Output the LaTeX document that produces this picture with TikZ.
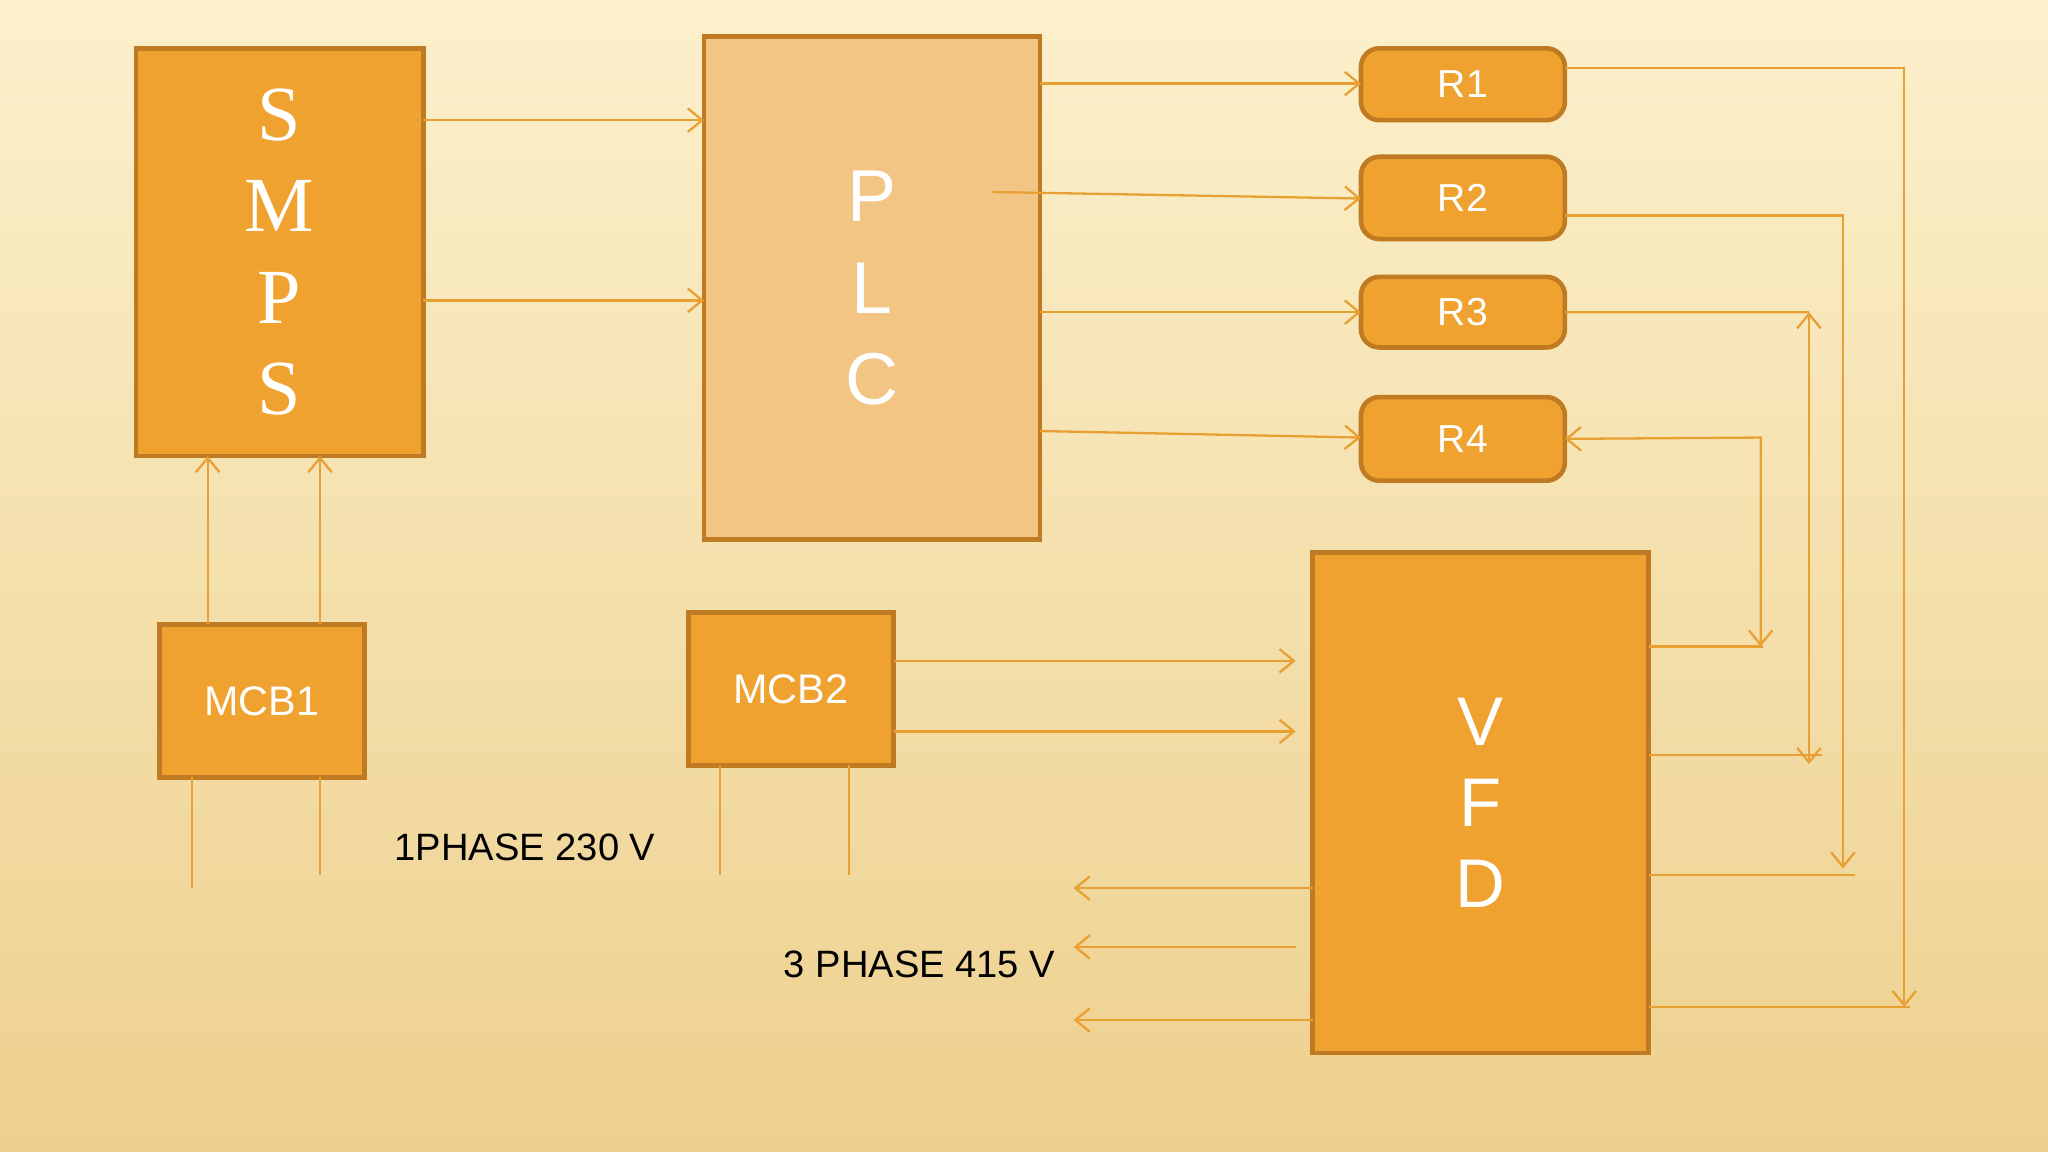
\documentclass[tikz,border=0pt]{standalone}
\usepackage{fontspec}
\setmainfont{Liberation Sans}
\newfontfamily\serifx{Liberation Serif}
\usetikzlibrary{arrows.meta}
\definecolor{bgtop}{HTML}{FCF0CC}
\definecolor{bgbot}{HTML}{EDD08E}
\definecolor{orfill}{HTML}{EFA22F}
\definecolor{ordraw}{HTML}{BF7A22}
\definecolor{plcfill}{HTML}{F3C585}
\definecolor{wire}{HTML}{E9A033}
\tikzset{
 box/.style={draw=ordraw,line width=1pt,fill=orfill,inner sep=0pt,outer sep=0pt,anchor=north west,text=white},
 rbox/.style={box,rounded corners=4pt},
 wireln/.style={draw=wire,line width=0.5pt},
 arr/.style={wireln,-{Straight Barb[length=1.1mm,width=1.8mm]}},
 darr/.style={wireln,{Straight Barb[length=1.1mm,width=1.8mm]}-{Straight Barb[length=1.1mm,width=1.8mm]}},
 lbl/.style={font=\fontsize{8.3pt}{10pt}\selectfont,text=black,inner sep=0pt}
}
\begin{document}
\begin{tikzpicture}[x=0.01cm,y=-0.01cm]
\shade[top color=bgtop,bottom color=bgbot] (0,0) rectangle (1568,882);
\useasboundingbox (0,0) rectangle (1568,882);
% boxes
\node[box,minimum width=2.2cm,minimum height=3.12cm,align=center,font=\serifx\fontsize{17pt}{19.9pt}\selectfont] (smps) at (104,37) {S\\M\\P\\S};
\node[box,fill=plcfill,minimum width=2.57cm,minimum height=3.85cm,align=center,font=\fontsize{16pt}{19.9pt}\selectfont] (plc) at (539,28) {P\\L\\C};
\node[rbox,minimum width=1.56cm,minimum height=0.55cm,font=\fontsize{8.5pt}{10pt}\selectfont] (r1) at (1042,37) {R1};
\node[rbox,minimum width=1.56cm,minimum height=0.63cm,font=\fontsize{8.5pt}{10pt}\selectfont] (r2) at (1042,120) {R2};
\node[rbox,minimum width=1.56cm,minimum height=0.54cm,font=\fontsize{8.5pt}{10pt}\selectfont] (r3) at (1042,212) {R3};
\node[rbox,minimum width=1.56cm,minimum height=0.64cm,font=\fontsize{8.5pt}{10pt}\selectfont] (r4) at (1042,304) {R4};
\node[box,minimum width=2.57cm,minimum height=3.83cm,align=center,font=\fontsize{15pt}{17.6pt}\selectfont] (vfd) at (1005,423) {V\\F\\D};
\node[box,minimum width=1.57cm,minimum height=1.17cm,font=\fontsize{9pt}{11pt}\selectfont] (mcb1) at (122,478) {MCB1};
\node[box,minimum width=1.57cm,minimum height=1.17cm,font=\fontsize{9pt}{11pt}\selectfont] (mcb2) at (527,469) {MCB2};
% labels
\node[lbl] (l1) at (402,649) {1PHASE 230 V};
\node[lbl] (l3) at (704,738) {3 PHASE 415 V};
% SMPS -> PLC
\draw[arr] (smps.east |- 0,92) -- (plc.west |- 0,92);
\draw[arr] (smps.east |- 0,230) -- (plc.west |- 0,230);
% PLC -> relays
\draw[arr] (plc.east |- 0,64) -- (r1.west |- 0,64);
\draw[arr] (760,147) -- (r2.west |- 0,152);
\draw[arr] (plc.east |- 0,239) -- (r3.west |- 0,239);
\draw[arr] (plc.east |- 0,330) -- (r4.west |- 0,335);
% MCB1 -> SMPS
\draw[arr] (mcb1.north -| 159,0) -- (smps.south -| 159,0);
\draw[arr] (mcb1.north -| 245,0) -- (smps.south -| 245,0);
\coordinate (a1) at (147,680); \coordinate (a2) at (245,670);
\draw[wireln] (mcb1.south -| 147,0) -- (a1);
\draw[wireln] (mcb1.south -| 245,0) -- (a2);
\coordinate (b1) at (551,670); \coordinate (b2) at (650,670);
\draw[wireln] (mcb2.south -| 551,0) -- (b1);
\draw[wireln] (mcb2.south -| 650,0) -- (b2);
% MCB2 -> VFD
\coordinate (v1) at (992,506); \coordinate (v2) at (992,560);
\draw[arr] (mcb2.east |- v1) -- (v1);
\draw[arr] (mcb2.east |- v2) -- (v2);
% VFD outputs
\coordinate (o1) at (822,680); \coordinate (o2) at (822,725); \coordinate (o3) at (822,781);
\draw[arr] (vfd.west |- o1) -- (o1);
\draw[arr] (992,725) -- (o2);
\draw[arr] (vfd.west |- o3) -- (o3);
% relay feedback wiring
\coordinate (k1) at (1458,52); \coordinate (k1b) at (1458,771);
\draw[arr] (r1.east |- k1) -- (k1) -- (k1b);
\draw[wireln] (vfd.east |- k1b) -- (1462,771);
\coordinate (k2) at (1411,165); \coordinate (k2b) at (1411,665);
\draw[arr] (r2.east |- k2) -- (k2) -- (k2b);
\draw[wireln] (vfd.east |- 0,670) -- (1420,670);
\coordinate (k3) at (1385,239); \coordinate (k3b) at (1385,585);
\draw[wireln] (r3.east) -- (k3);
\draw[darr] (k3) -- (k3b);
\draw[wireln] (vfd.east |- 0,578) -- (1395,578);
\coordinate (k4) at (1348,335); \coordinate (k4b) at (1348,495);
\draw[darr] (r4.east) -- (k4) -- (k4b);
\draw[wireln] (vfd.east |- k4b) -- (1350,495);
\end{tikzpicture}
\end{document}
